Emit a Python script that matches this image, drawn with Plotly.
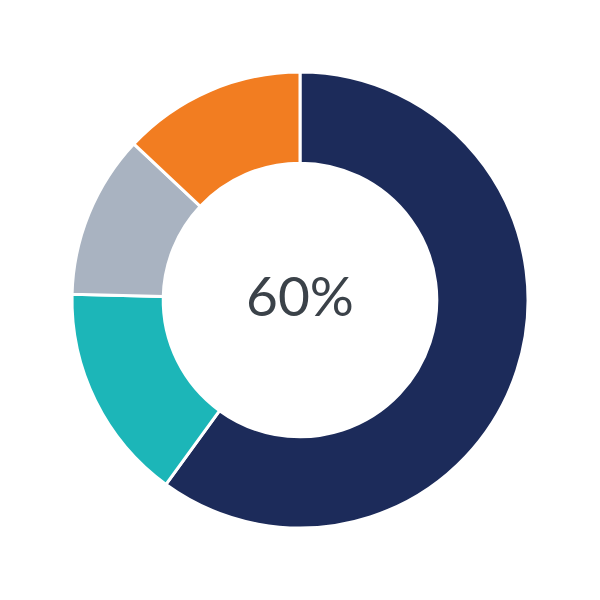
import plotly.graph_objects as go

labels = ["Navy", "Teal", "Gray", "Orange"]
values = [60, 15.4, 11.6, 13]
colors = ["#1c2b5a", "#1cb6b8", "#a9b3c1", "#f27d21"]
center_label = "60%"

fig = go.Figure(go.Pie(
    labels=labels,
    values=values,
    hole=0.6,
    sort=False,
    direction="clockwise",
    rotation=0,
    marker=dict(colors=colors, line=dict(color="white", width=3)),
    textinfo="none",
    hoverinfo="label+percent",
    showlegend=False,
))

fig.add_annotation(
    text=center_label, x=0.5, y=0.5, xref="paper", yref="paper",
    showarrow=False, yshift=5,
    font=dict(family="Lato", size=55, color="#3b4249"),
)

# page has an 8px body margin, so shift the plot area up/left
fig.update_layout(
    width=600, height=600,
    margin=dict(l=64, r=80, t=64, b=80),
    paper_bgcolor="white",
    plot_bgcolor="white",
)

fig.write_html("out.html")
